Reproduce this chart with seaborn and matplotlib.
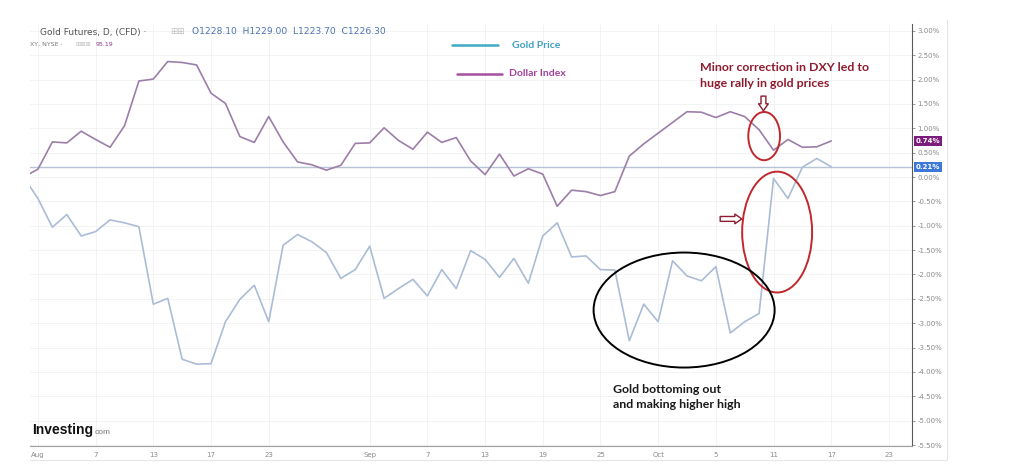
import numpy as np
import pandas as pd
import seaborn as sns
import matplotlib.pyplot as plt
from matplotlib.patches import Ellipse
from matplotlib.lines import Line2D

# trading sessions, Jul 31 2018 .. Oct 17 2018 (percent change vs first bar)
dates = pd.bdate_range('2018-07-31', '2018-10-17')

dollar_index = [0.00, 0.16, 0.72, 0.70, 0.94, 0.77, 0.61, 1.05, 1.97, 2.01,
                2.37, 2.35, 2.30, 1.72, 1.51, 0.83, 0.71, 1.24, 0.72, 0.31,
                0.25, 0.14, 0.24, 0.69, 0.70, 1.01, 0.75, 0.57, 0.92, 0.71,
                0.81, 0.33, 0.05, 0.47, 0.02, 0.17, 0.06, -0.60, -0.27, -0.30,
                -0.38, -0.30, 0.43, 0.68, 0.90, 1.12, 1.34, 1.33, 1.22, 1.34,
                1.24, 0.97, 0.55, 0.77, 0.61, 0.62, 0.74]

gold_price = [0.00, -0.44, -1.03, -0.77, -1.21, -1.12, -0.88, -0.94, -1.02, -2.61,
              -2.49, -3.74, -3.84, -3.83, -2.97, -2.51, -2.22, -2.97, -1.40, -1.18,
              -1.33, -1.55, -2.08, -1.90, -1.42, -2.49, -2.29, -2.10, -2.44, -1.90,
              -2.29, -1.51, -1.69, -2.06, -1.67, -2.18, -1.21, -0.94, -1.64, -1.62,
              -1.90, -1.91, -3.36, -2.61, -2.97, -1.72, -2.03, -2.13, -1.84, -3.20,
              -2.97, -2.80, -0.03, -0.44, 0.20, 0.38, 0.21]

tick_dates = ['2018-08-01', '2018-08-07', '2018-08-13', '2018-08-17', '2018-08-23',
              '2018-09-03', '2018-09-07', '2018-09-13', '2018-09-19', '2018-09-25',
              '2018-10-01', '2018-10-05', '2018-10-11', '2018-10-17', '2018-10-23']
tick_labels = ['Aug', '7', '13', '17', '23', 'Sep', '7', '13', '19', '25',
               'Oct', '5', '11', '17', '23']

y_ticks = np.arange(-5.5, 3.01, 0.5)

df = pd.DataFrame({'session': np.arange(len(dates)),
                   'gold': gold_price, 'dxy': dollar_index})
all_days = pd.bdate_range('2018-07-31', '2018-10-31')
tick_pos = [all_days.get_loc(pd.Timestamp(d)) for d in tick_dates]

GOLD_C = '#abbcd5'
DXY_C = '#9c7ea8'
RED = '#8e1b2e'

sns.set_style('white')
plt.rcParams['font.family'] = ['DejaVu Sans']

fig = plt.figure(figsize=(10.2, 4.75), dpi=100)
ax = fig.add_axes([30/1020, 29/475, 882/1020, 422/475])

ax.axhline(gold_price[-1], color='#b7c4d6', lw=1.0, zorder=1)
sns.lineplot(data=df, x='session', y='dxy', color=DXY_C, lw=1.2, ax=ax, zorder=3)
sns.lineplot(data=df, x='session', y='gold', color=GOLD_C, lw=1.2, ax=ax, zorder=3)

ax.set_xlim(0.45, 61.6)
ax.set_ylim(-5.52, 3.14)
ax.set_xlabel('')
ax.set_ylabel('')

ax.yaxis.tick_right()
ax.set_yticks(y_ticks)
ax.set_yticklabels([f'{v:.2f}%' for v in y_ticks])
ax.set_xticks(tick_pos)
ax.set_xticklabels(tick_labels)
ax.tick_params(axis='both', labelsize=5, colors='#8a8a8a', length=2, pad=2, width=0.6)
ax.grid(True, color='#f1f1f1', lw=0.6)
for s in ['top', 'left']:
    ax.spines[s].set_visible(False)
ax.spines['right'].set_color('#5a5a5a')
ax.spines['right'].set_linewidth(0.8)
ax.spines['bottom'].set_color('#a0a0a0')
ax.spines['bottom'].set_linewidth(0.8)

# last value labels on the price scale
tr = ax.get_yaxis_transform()
ax.text(1.004, dollar_index[-1], f'{dollar_index[-1]:.2f}%', transform=tr, fontsize=5,
        color='white', va='center', ha='left', fontweight='bold',
        bbox=dict(boxstyle='square,pad=0.25', fc='#7b1c7e', ec='none'), clip_on=False)
ax.text(1.004, gold_price[-1], f'{gold_price[-1]:.2f}%', transform=tr, fontsize=5,
        color='white', va='center', ha='left', fontweight='bold',
        bbox=dict(boxstyle='square,pad=0.25', fc='#3d78d6', ec='none'), clip_on=False)

# annotations
ax.add_patch(Ellipse((51.35, 0.84), 2.2, 0.99, fill=False, ec='#c0282d', lw=1.4, zorder=5))
ax.add_patch(Ellipse((52.25, -1.13), 4.85, 2.48, fill=False, ec='#c0282d', lw=1.4, zorder=5))
ax.add_patch(Ellipse((45.8, -2.73), 12.55, 2.36, fill=False, ec='black', lw=1.4, zorder=5))

arrow = dict(arrowstyle='simple,head_width=0.7,head_length=0.5,tail_width=0.35',
             fc='white', ec=RED, lw=1.0, shrinkA=0, shrinkB=0)
ax.annotate('', xy=(51.3, 1.36), xytext=(51.3, 1.66), arrowprops=arrow)
ax.annotate('', xy=(49.8, -0.86), xytext=(48.3, -0.86), arrowprops=arrow)

ax.text(46.9, 2.36, 'Minor correction in DXY led to\nhuge rally in gold prices',
        family='Lato', fontweight='bold', fontsize=8.9, color=RED, va='top',
        linespacing=1.5)
ax.text(40.9, -4.25, 'Gold bottoming out\nand making higher high',
        family='Lato', fontweight='bold', fontsize=8.9, color='#1a1a1a', va='top',
        linespacing=1.45)

# legend drawn like the pasted key
fig.add_artist(Line2D([452/1020, 498/1020], [1-45/475, 1-45/475], color='#3fa9c4', lw=1.8))
fig.add_artist(Line2D([457/1020, 502/1020], [1-74/475, 1-74/475], color='#a8509f', lw=1.8))
fig.text(512/1020, 1-46/475, 'Gold Price', family='Lato', fontweight='bold', fontsize=7.5,
         color='#3d9ec6', va='center')
fig.text(509/1020, 1-73/475, 'Dollar Index', family='Lato', fontweight='bold', fontsize=7.5,
         color='#a43f9c', va='center')

# chart header
fig.text(40/1020, 1-32/475, 'Gold Futures, D, (CFD) \u00b7', fontsize=6.5, color='#555555', va='center')
fig.text(170/1020, 1-32/475, '\u229e\u229e', fontsize=6.3, color='#c0c0c0', va='center')
fig.text(192/1020, 1-32/475, 'O1228.10  H1229.00  L1223.70  C1226.30', fontsize=6.6,
         color='#4a73b0', va='center')
fig.text(30/1020, 1-44/475, 'XY, NYSE \u00b7', fontsize=4.5, color='#7a7a7a', va='center')
fig.text(75/1020, 1-44/475, '\u229e\u229e\u229e', fontsize=4.5, color='#c0c0c0', va='center')
fig.text(96/1020, 1-44/475, '95.19', fontsize=4.5, color='#8a3a8a', va='center')

# logo
fig.text(32/1020, 1-430/475, 'Investing', fontsize=10, fontweight='bold', color='#111111',
         va='center', family='Liberation Sans')
fig.text(95/1020, 1-432/475, 'com', fontsize=6, color='#777777', va='center', family='Liberation Sans')

# widget border
fig.add_artist(Line2D([30/1020, 947/1020], [1-460/475, 1-460/475], color='#e6e6e6', lw=0.8))
fig.add_artist(Line2D([947/1020, 947/1020], [1-20/475, 1-460/475], color='#e6e6e6', lw=0.8))

fig.savefig('out.png', dpi=100)
